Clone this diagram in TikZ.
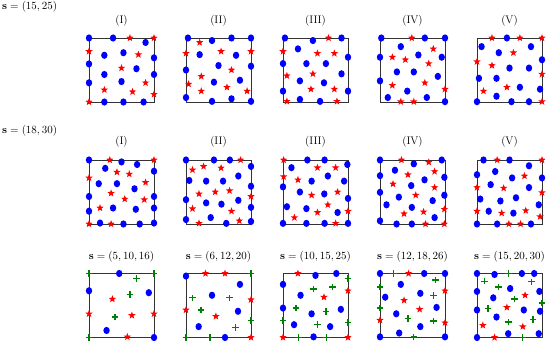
\documentclass[tikz,border=0pt]{standalone}
\usetikzlibrary{shapes.geometric}
\definecolor{dotblue}{RGB}{0,0,255}
\definecolor{starred}{RGB}{255,0,0}
\definecolor{plusgreen}{RGB}{0,128,0}
\definecolor{boxgray}{RGB}{51,51,51}
\tikzset{
  dotc/.style={ellipse,fill=dotblue,inner sep=0pt,minimum width=6.4pt,minimum height=7.2pt},
  redstar/.style={star,star points=5,star point ratio=2.4,fill=starred,inner sep=0pt,minimum size=7.8pt},
  plusmark/.pic={\draw[plusgreen,line width=1.3pt] (-3.3pt,0)--(3.3pt,0) (0,-3.3pt)--(0,3.3pt);},
  boxline/.style={draw=boxgray,line width=0.9pt},
  lbl/.style={font=\fontsize{11}{13}\selectfont,inner sep=0pt},
}
\newcommand\panelA[4]{%
  \begin{scope}[shift={(#1,#2)}]
    \draw[boxline] (0,0) rectangle (65,64);
    \foreach \u/\v in {#3} \node[dotc] at (65*\u,64*\v) {};
    \foreach \u/\v in {#4} \node[redstar] at (65*\u,64*\v) {};
  \end{scope}}
\newcommand\panelB[5]{%
  \begin{scope}[shift={(#1,#2)}]
    \draw[boxline] (0,0) rectangle (65,64);
    \foreach \u/\v in {#3} \node[dotc] at (65*\u,64*\v) {};
    \foreach \u/\v in {#4} \node[redstar] at (65*\u,64*\v) {};
    \foreach \u/\v in {#5} \pic at (65*\u,64*\v) {plusmark};
  \end{scope}}
\begin{document}
\begin{tikzpicture}[x=1pt,y=-1pt]
\useasboundingbox (0,0) rectangle (550,345);
% headers
\node[lbl,anchor=west] (h1) at (2,7) {$\mathbf{s}=(15,25)$};
\node[lbl,anchor=west] (h2) at (2,131) {$\mathbf{s}=(18,30)$};
\foreach \x/\t [count=\i] in {89/I,186/II,283/III,380/IV,477/V}{
  \node[lbl] (t1\i) at (\x+32.5,21) {(\t)};
  \node[lbl] (t2\i) at (\x+32.5,142) {(\t)};
}
\node[lbl] (t31) at (121.5,257) {$\mathbf{s}=(5,10,16)$};
\node[lbl] (t32) at (218.5,257) {$\mathbf{s}=(6,12,20)$};
\node[lbl] (t33) at (315.5,257) {$\mathbf{s}=(10,15,25)$};
\node[lbl] (t34) at (412.5,257) {$\mathbf{s}=(12,18,26)$};
\node[lbl] (t35) at (509.5,257) {$\mathbf{s}=(15,20,30)$};
% row 1
\panelA{89}{38}
 {0/0, 0.37/0, 0.87/0.07, 0/0.405, 0.236/0.27, 0.53/0.23, 1/0.31, 0.73/0.48, 0.236/0.57, 1/0.57, 0/0.7, 0.5/0.68, 0.236/1, 0.53/1, 0.84/1}
 {0.63/0, 1/0, 0/0.21, 0.76/0.26, 0.5/0.47, 0.87/0.7, 0.236/0.81, 0.67/0.84, 1/0.88, 0/1}
\panelA{186}{38}
 {0.03/0, 0.40/0.04, 0.70/0, 1/0, 0.21/0.26, 0.77/0.27, 1/0.44, 0.50/0.43, 0/0.50, 0.83/0.66, 0.43/0.69, 0/0.93, 0.40/0.99, 0.70/0.95, 1/0.99}
 {0.21/0.07, 0/0.24, 0.54/0.21, 1/0.21, 0.70/0.50, 0.235/0.60, 0.04/0.72, 0.63/0.77, 0.235/0.83, 0.94/0.83}
\panelA{283}{38}
 {0.03/0, 0.46/0.04, 0.90/0, 0.23/0.17, 1/0.30, 0/0.40, 0.36/0.40, 0.66/0.40, 0.90/0.56, 0.26/0.67, 0.63/0.70, 0/0.83, 1/0.83, 0.26/0.96, 0.57/0.99}
 {0.70/0, 0/0.21, 0.53/0.24, 0.79/0.24, 0.06/0.59, 0.46/0.56, 0.43/0.80, 0.79/0.80, 0.06/0.99, 0.83/0.99}
\panelA{380}{38}
 {0.02/0, 0.69/0, 1/0, 0.32/0.135, 0/0.30, 0.59/0.265, 0.95/0.30, 0.26/0.53, 0.52/0.53, 0/0.67, 0.89/0.60, 0.42/0.83, 0.12/0.93, 0.72/0.93, 1/0.995}
 {0.49/0, 0.82/0.17, 0.19/0.30, 0.39/0.34, 0.75/0.40, 0.19/0.74, 0.69/0.70, 1/0.80, 0.32/0.995, 0.52/0.995}
\panelA{477}{38}
 {0.46/0, 0.83/0.135, 0.07/0.135, 0.335/0.23, 1/0.34, 0.50/0.47, 0.80/0.47, 0.03/0.63, 0.30/0.63, 0.66/0.77, 0.97/0.80, 0.30/0.91, 0/0.995, 0.53/0.995, 0.80/0.995}
 {0.23/0, 0.66/0, 1/0, 0.56/0.23, 0/0.37, 0.23/0.43, 1/0.565, 0.46/0.77, 0.10/0.83, 1/0.995}
% row 2
\panelA{89}{160}
 {0/0, 0.50/0.03, 0.74/0.07, 0.25/0.13, 1/0.175, 0.15/0.37, 0.43/0.37, 0.70/0.45, 0/0.57, 1/0.57, 0.37/0.75, 0.72/0.77, 1/0.75, 0/0.80, 0.17/0.985, 0.53/1, 0.78/1, 1/0.985}
 {0.32/0, 1/0, 0.43/0.19, 0.62/0.22, 0/0.28, 0.87/0.35, 0.34/0.52, 0.55/0.61, 0.85/0.62, 0.17/0.75, 0/1, 0.34/1}
\panelA{186}{160}
 {0/0, 0.43/0, 0.675/0, 1/0.10, 0.805/0.25, 0.05/0.32, 0.31/0.33, 0.57/0.33, 1/0.41, 0/0.62, 0.31/0.67, 0.545/0.69, 0.805/0.63, 1/0.74, 0/0.93, 0.38/0.90, 0.62/0.99, 1/0.96}
 {0.84/0, 0.10/0.155, 0.27/0.10, 0.54/0.125, 0.20/0.53, 0.45/0.50, 0.67/0.48, 1/0.57, 0.10/0.76, 0.70/0.80, 0.20/0.99, 0.82/0.95}
\panelA{283}{160}
 {0.375/0, 0.64/0, 0.99/0.07, 0.13/0.12, 0.69/0.25, 0.44/0.33, 0.94/0.33, 0/0.42, 0.26/0.50, 0.635/0.53, 1/0.60, 0.06/0.73, 0.36/0.76, 0.84/0.82, 0/0.99, 0.36/0.99, 0.64/0.99, 1/0.99}
 {0.01/0, 0.53/0.12, 0.81/0.12, 0.01/0.26, 0.23/0.31, 0.44/0.55, 0.84/0.50, 0.69/0.70, 0.53/0.82, 1/0.80, 0.175/0.90, 0.81/0.99}
\panelA{380}{160}
 {0/0, 0.52/0.06, 0.95/0, 0.23/0.16, 0/0.245, 0.685/0.31, 0.99/0.27, 0.48/0.40, 0/0.505, 0.29/0.58, 0.99/0.55, 0.81/0.635, 0.10/0.70, 0.49/0.74, 0.84/0.90, 0/0.95, 0.255/1, 0.49/1}
 {0.33/0, 0.75/0.035, 0.43/0.23, 0.84/0.18, 0.20/0.375, 0.84/0.43, 0.55/0.55, 0.67/0.81, 0.99/0.77, 0.37/0.84, 0.70/1, 0.99/1}
\panelA{477}{160}
 {0.10/0, 0.50/0, 0.80/0.09, 0.28/0.18, 0/0.23, 0.54/0.28, 1/0.28, 0.21/0.385, 0.80/0.43, 0.05/0.61, 0.36/0.64, 0.60/0.59, 0.95/0.70, 0.18/0.80, 0.56/0.83, 0/1, 0.31/1, 0.83/1}
 {0.31/0, 1/0, 0.73/0.25, 0.41/0.44, 0/0.43, 1/0.51, 0/0.80, 0.38/0.83, 0.75/0.79, 0.97/0.885, 0.49/1, 0.67/1}
% row 3
\panelB{89}{273.5}
 {0.465/0, 0/0.27, 0.92/0.30, 0.27/0.89, 1/1}
 {0.36/0.40, 0/0.63, 0.66/0.655, 1/0.63, 0.59/0.99}
 {0/0, 1/0, 0.73/0.08, 0.63/0.33, 0.40/0.68, 0/1}
\panelB{186}{273.5}
 {0/0.04, 0.83/0.17, 0.40/0.34, 0.80/0.59, 0.195/0.83, 0.60/1}
 {0.30/0, 0.60/0, 1/0.41, 0/0.57, 0.46/0.67, 1/1}
 {1/0, 0.10/0.38, 0.67/0.38, 0.23/0.57, 1/0.73, 0.76/0.84, 0/1, 0.37/1}
\panelB{283}{273.5}
 {0.50/0.03, 0.82/0, 0/0.17, 0.27/0.34, 0/0.54, 0.44/0.63, 0.89/0.56, 0.17/0.80, 0.725/0.83, 0.47/0.99}
 {0.23/0, 1/0.27, 0.63/0.37, 0/1, 1/1}
 {1/0.08, 0.47/0.24, 0.76/0.21, 0.20/0.54, 0.66/0.59, 0/0.73, 1/0.77, 0.53/0.80, 0.24/1, 0.67/1}
\panelB{380}{273.5}
 {0/0, 0.68/0, 1/0, 0.32/0.17, 0.62/0.31, 0.08/0.37, 0.87/0.53, 0.25/0.63, 0.62/0.83, 0.295/0.93, 0/0.99, 1/0.99}
 {0.44/0, 1/0.27, 0.37/0.42, 0.61/0.56, 0/0.73, 1/0.77}
 {0.21/0, 0.85/0.10, 0/0.21, 0.82/0.34, 0/0.54, 0.43/0.70, 0.82/0.74, 0.52/0.99}
\panelB{477}{273.5}
 {0/0, 0.27/0.015, 0.69/0, 0.88/0, 0.51/0.235, 0/0.28, 0.96/0.28, 0.25/0.38, 0/0.57, 0.72/0.57, 0.97/0.59, 0.30/0.68, 0.48/0.94, 0.95/0.94, 0/1}
 {0.74/0.34, 0.46/0.53, 0.09/0.81, 0.705/0.83, 0.27/1}
 {0.48/0, 0.115/0.12, 0.33/0.21, 0.84/0.13, 0.58/0.40, 1/0.46, 0.17/0.55, 0.86/0.72, 0.48/0.76, 0.705/1}
\end{tikzpicture}
\end{document}
